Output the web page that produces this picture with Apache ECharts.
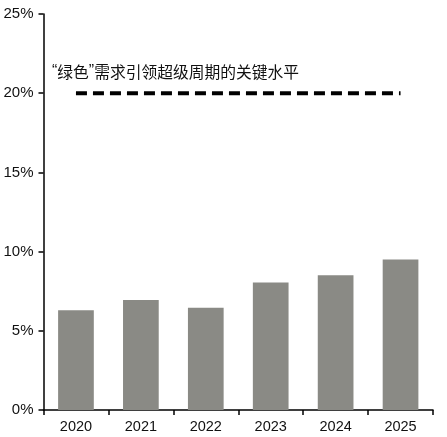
<!DOCTYPE html>
<html>
<head>
<meta charset="utf-8">
<script src="https://cdn.jsdelivr.net/npm/echarts@6/dist/echarts.min.js"></script>
<style>
  html, body { margin: 0; padding: 0; background: #fff; }
  #main { width: 447px; height: 437px; }
</style>
</head>
<body>
<div id="main"></div>
<script>
// 数据
var years = ['2020', '2021', '2022', '2023', '2024', '2025']
var shareValues = [6.3, 6.95, 6.45, 8.05, 8.5, 9.5]
var keyLevel = [20, 20, 20, 20, 20, 20]
var keyLevelName = '“绿色”需求引领超级周期的关键水平'

var myChart = echarts.init(document.getElementById('main'))

// 引号用西文字体，汉字用 CJK 字体
var richLabel = keyLevelName.replace(/[“”]/g, function (q) {
    return '{q|' + q + '}'
}).replace(/([^{}|q“”]+)/g, '{c|$1}')

myChart.setOption({
    animation: false,
    textStyle: { fontFamily: 'Liberation Sans, Arial, sans-serif' },
    grid: {
        left: 43.5,
        right: 14,
        top: 14,
        bottom: 27,
        containLabel: false
    },
    xAxis: {
        type: 'category',
        data: years,
        boundaryGap: true,
        axisLine: { lineStyle: { color: '#000', width: 1.5 } },
        axisTick: { show: true, inside: false, length: 5, lineStyle: { color: '#000', width: 1.5 } },
        axisLabel: { color: '#111', fontSize: 14.5, margin: 9 }
    },
    yAxis: {
        type: 'value',
        min: 0,
        max: 25,
        interval: 5,
        splitLine: { show: false },
        axisLine: { show: true, lineStyle: { color: '#000', width: 1.5 } },
        axisTick: { show: true, inside: false, length: 5, lineStyle: { color: '#000', width: 1.5 } },
        axisLabel: { color: '#111', fontSize: 15, margin: 10, formatter: '{value}%' }
    },
    graphic: [
        {
            type: 'text',
            left: 52,
            top: 64,
            style: {
                text: richLabel,
                fill: '#111',
                rich: {
                    q: { fontFamily: 'Liberation Sans', fontSize: 16, fill: '#111' },
                    c: { fontFamily: 'Noto Sans CJK SC', fontSize: 15.75, fill: '#111' }
                }
            }
        }
    ],
    series: [
        {
            name: '占比',
            type: 'bar',
            data: shareValues,
            barWidth: '55%',
            itemStyle: { color: '#8a8a85' }
        },
        {
            name: keyLevelName,
            type: 'line',
            data: keyLevel,
            symbol: 'none',
            lineStyle: { color: '#000', width: 4, type: [11, 6] }
        }
    ]
})
</script>
</body>
</html>
